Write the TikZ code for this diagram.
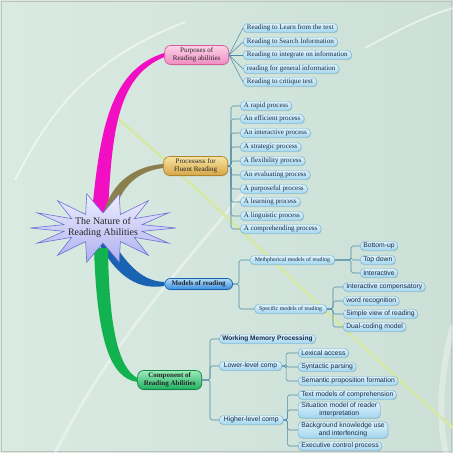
\documentclass[tikz,border=0pt]{standalone}
\usepackage{fontspec}
\setmainfont{Liberation Serif}
\newfontfamily\arialfont{Liberation Sans}
\usepackage{tikz}
\usetikzlibrary{calc, shadows}
\usepackage{xcolor}
\definecolor{bgleft}{HTML}{D9EAE1}
\definecolor{bgright}{HTML}{CCE0D7}
\definecolor{leaftop}{HTML}{DDF2FB}
\definecolor{leafbot}{HTML}{A3D6EE}
\definecolor{leafedge}{HTML}{74B3D4}
\definecolor{leaftext}{HTML}{1B2A48}
\definecolor{linkcol}{HTML}{4F8BA6}
\definecolor{pinktop}{HTML}{FBD3E8}
\definecolor{pinkbot}{HTML}{F08CC2}
\definecolor{pinkedge}{HTML}{D85A9C}
\definecolor{goldtop}{HTML}{F8E4A4}
\definecolor{goldbot}{HTML}{D6A646}
\definecolor{goldedge}{HTML}{B0842C}
\definecolor{bluetop}{HTML}{B0DCFA}
\definecolor{bluebot}{HTML}{3A8EE0}
\definecolor{blueedge}{HTML}{1C62B2}
\definecolor{greentop}{HTML}{9AEAB8}
\definecolor{greenbot}{HTML}{22B062}
\definecolor{greenedge}{HTML}{0E8A40}
\definecolor{magbranch}{HTML}{F20EC2}
\definecolor{olivebranch}{HTML}{8C7F4E}
\definecolor{bluebranch}{HTML}{1A62B2}
\definecolor{greenbranch}{HTML}{12B250}
\definecolor{startop}{HTML}{EEEEFF}
\definecolor{starbot}{HTML}{AEB0EE}
\definecolor{staredge}{HTML}{6C70D4}
\definecolor{paleline}{HTML}{D6E8A6}

\tikzset{
  leaf/.style={draw=leafedge, line width=0.4pt, top color=leaftop,
    bottom color=leafbot, rounded corners=3.5pt, inner xsep=3.2pt,
    inner ysep=1pt, minimum height=0.27cm, text=leaftext,
    font=\fontsize{6}{6.5}\selectfont,
    drop shadow={shadow xshift=0.5pt, shadow yshift=-0.6pt, opacity=0.25}},
  sleaf/.style={leaf, inner xsep=2.6pt, align=center,
    font=\arialfont\fontsize{5.8}{6.6}\selectfont},
  midleaf/.style={leaf, inner xsep=4pt, font=\fontsize{5}{6}\selectfont},
  branch/.style={rounded corners=5pt, line width=0.6pt, minimum width=1.92cm,
    inner ysep=2pt, align=center, text=black!85,
    font=\fontsize{6}{6.6}\selectfont,
    drop shadow={shadow xshift=0.6pt, shadow yshift=-0.7pt, opacity=0.25}},
  link/.style={draw=linkcol, line width=0.45pt, rounded corners=1.5pt},
}

\begin{document}
\begin{tikzpicture}[x=0.03cm, y=-0.03cm]
  % background
  \shade[left color=bgleft, right color=bgright] (0,0) rectangle (453,453);
  \useasboundingbox (0,0) rectangle (453,453);
  \draw[black!25, line width=0.4pt] (1.5,1.5) rectangle (451.5,451.5);
  \draw[white, opacity=0.55, line width=1.6pt]
    (15,180) .. controls (55,100) and (100,55) .. (185,22);
  \draw[white, opacity=0.6, line width=1.4pt]
    (365,48) .. controls (395,32) and (425,16) .. (453,8);
  \draw[white, opacity=0.4, line width=2.5pt]
    (55,453) .. controls (110,345) and (170,280) .. (250,185);
  \draw[white, opacity=0.35, line width=5pt]
    (453,325) .. controls (440,375) and (438,420) .. (446,453);
  \draw[paleline, line width=2.2pt, line cap=round]
    (110,112) .. controls (220,205) and (330,320) .. (453,428);

  % branch nodes
  \node[branch, anchor=east, draw=pinkedge, top color=pinktop,
    bottom color=pinkbot] (pur) at (229,55) {Purposes of\\Reading abilities};
  \node[branch, anchor=east, draw=goldedge, top color=goldtop,
    bottom color=goldbot] (flu) at (228,166) {Processess for\\Fluent Reading};
  \node[branch, anchor=east, draw=blueedge, top color=bluetop,
    bottom color=bluebot, minimum width=2.04cm, font=\fontsize{6}{6.6}\selectfont\bfseries]
    (mod) at (233,284) {Models of reading};
  \node[branch, anchor=east, draw=greenedge, top color=greentop,
    bottom color=greenbot, font=\fontsize{6}{6.6}\selectfont\bfseries]
    (comp) at (202,380) {Component of\\Reading Abilities};

  % ribbons from the centre
  \fill[magbranch] (92,212) .. controls (100,130) and (110,70) .. ($(pur.west)+(0,-2)$)
    -- ($(pur.west)+(0,2)$) .. controls (118,76) and (112,130) .. (108,212) -- cycle;
  \fill[olivebranch] (104,212) .. controls (112,182) and (135,166) .. ($(flu.west)+(0,-2)$)
    -- ($(flu.west)+(0,2)$) .. controls (138,171) and (121,186) .. (114,214) -- cycle;
  \fill[bluebranch] (110,238) .. controls (126,262) and (140,281) .. ($(mod.west)+(0,-2)$)
    -- ($(mod.west)+(0,2)$) .. controls (133,291) and (114,270) .. (99,244) -- cycle;
  \fill[greenbranch] (94,248) .. controls (97,340) and (110,378) .. ($(comp.west)+(0,2)$)
    -- ($(comp.west)+(0,-2)$) .. controls (119,368) and (109,330) .. (108,248) -- cycle;

  % centre star
  \shade[top color=startop, bottom color=starbot, draw=staredge, line width=0.5pt,
    shift={(103,228)}]
    (0:73 and 35) \foreach \a in {1,...,13} {
      -- ({\a*25.714-12.857}:40 and 15) -- ({\a*25.714}:73 and 35)}
    -- (347.143:40 and 15) -- cycle;
  \node[align=center, font=\fontsize{8.5}{9.4}\selectfont, text=black!85]
    (root) at (103,228) {The Nature of\\Reading Abilities};

  % purposes
  \foreach \i/\y/\t in {1/28/Reading to Learn from the text,
      2/42/Reading to Search Information,
      3/55/Reading to integrate on information,
      4/69/reading for general information,
      5/82/Reading to critique text} {
    \node[leaf, anchor=west] (pr\i) at (243,\y) {\t};
    \draw[link] (pur.east) -- (pr\i.west);
  }

  % fluent reading
  \foreach \i/\y/\t in {1/106/A rapid process, 2/119/An efficient process,
      3/133/An interactive process, 4/147/A strategic process,
      5/161/A flexibility process, 6/175/An evaluating process,
      7/189/A purposeful process, 8/202/A learning process,
      9/216/A linguistic process, 10/229/A comprehending process} {
    \node[leaf, anchor=west] (fp\i) at (240,\y) {\t};
    \draw[link] (flu.east) -- ++(3,0) |- (fp\i.west);
  }

  % models of reading
  \node[midleaf, anchor=east] (meta) at (335,260) {Methphorical models of reading};
  \node[midleaf, anchor=east] (spec) at (327,309) {Specific models of reading};
  \draw[link] (mod.east) -- ++(6,0) |- (meta.west);
  \draw[link] (mod.east) -- ++(6,0) |- (spec.west);
  \foreach \i/\y/\t in {1/246/Bottom-up, 2/260/Top down, 3/273/Interactive} {
    \node[sleaf, anchor=west] (mm\i) at (360,\y) {\t};
    \draw[link] (meta.east) -- ++(16,0) |- (mm\i.west);
  }
  \foreach \i/\y/\t in {1/287/Interactive compensatory, 2/301/word recognition,
      3/314/Simple view of reading, 4/327/Dual-coding model} {
    \node[sleaf, anchor=west] (sm\i) at (343,\y) {\t};
    \draw[link] (spec.east) -- ++(6,0) |- (sm\i.west);
  }

  % components
  \node[sleaf, anchor=west, font=\arialfont\bfseries\fontsize{5.6}{6.4}\selectfont]
    (wmp) at (219,339) {Working Memory Processing};
  \node[sleaf, anchor=west, inner xsep=4pt] (low) at (219,366) {Lower-level comp};
  \node[sleaf, anchor=west, inner xsep=4pt] (high) at (219,420) {Higher-level comp};
  \foreach \n in {wmp, low, high}
    \draw[link] (comp.east) -- ++(8,0) |- (\n.west);
  \foreach \i/\y/\t in {1/353/Lexical access, 2/367/Syntactic parsing,
      3/381/Semantic proposition formation} {
    \node[sleaf, anchor=west] (lw\i) at (298,\y) {\t};
    \draw[link] (low.east) -- ++(4,0) |- (lw\i.west);
  }
  \foreach \i/\y/\t in {1/395/Text models of comprehension,
      2/410/{Situation model of reader\\interpretation},
      3/430/{Background knowledge use\\and interfencing},
      4/446/Executive control process} {
    \node[sleaf, anchor=west] (hg\i) at (298,\y) {\t};
    \draw[link] (high.east) -- ++(4,0) |- (hg\i.west);
  }
\end{tikzpicture}
\end{document}
